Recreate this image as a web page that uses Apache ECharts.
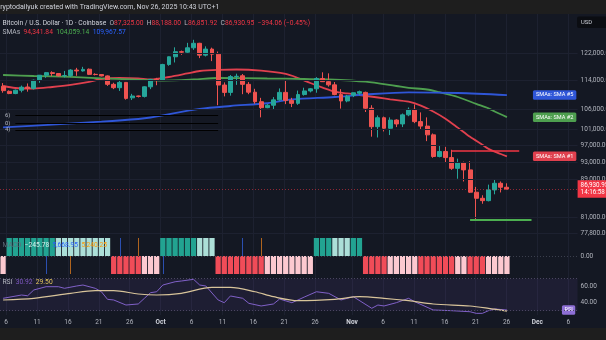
<!DOCTYPE html>
<html>
<head>
<meta charset="utf-8">
<script src="https://cdn.jsdelivr.net/npm/echarts@6/dist/echarts.min.js"></script>
<style>
html,body{margin:0;padding:0;background:#141823;}
#chart{width:606px;height:340px;}
</style>
</head>
<body>
<div id="chart"></div>
<script>
// ---- daily categories: 5 Sep 2025 .. 7 Dec 2025 ----
const dates = [];
for (let d = new Date(Date.UTC(2025, 8, 5)); d <= new Date(Date.UTC(2025, 11, 7)); d.setUTCDate(d.getUTCDate() + 1)) {
  dates.push(d.toISOString().slice(0, 10));
}

// time-axis labels
const tickDates = ['2025-09-06','2025-09-11','2025-09-16','2025-09-21','2025-09-26','2025-10-01','2025-10-06',
  '2025-10-11','2025-10-16','2025-10-21','2025-10-26','2025-11-01','2025-11-06','2025-11-11','2025-11-16',
  '2025-11-21','2025-11-26','2025-12-01','2025-12-06'];
const monthNames = {'09':'Sep','10':'Oct','11':'Nov','12':'Dec'};

// price-scale labels
const priceTicks = [122000, 114000, 106000, 101000, 97000, 93000, 89000, 81000, 77800];

// BTC/USD daily candles: date, open, high, low, close
const ohlc = [
['2025-09-05',112400,113300,110600,111180],
['2025-09-06',111000,111250,110200,110380],
['2025-09-07',110380,111500,110200,111300],
['2025-09-08',111300,112600,110700,112150],
['2025-09-09',112200,113200,110900,111800],
['2025-09-10',111800,114300,111500,114100],
['2025-09-11',114100,115600,113400,115550],
['2025-09-12',115550,116500,114800,116300],
['2025-09-13',116300,116700,115300,116050],
['2025-09-14',116050,116200,115200,115400],
['2025-09-15',115400,116800,114900,115450],
['2025-09-16',115450,117300,115000,117050],
['2025-09-17',117050,117700,115400,116800],
['2025-09-18',116800,118000,116600,117250],
['2025-09-19',117300,117500,115600,115800],
['2025-09-20',115800,116100,115500,115750],
['2025-09-21',115750,115900,115200,115350],
['2025-09-22',115350,115500,112500,112950],
['2025-09-23',112950,113400,111600,112000],
['2025-09-24',112000,113900,111100,113500],
['2025-09-25',113500,113600,108700,109050],
['2025-09-26',109200,110300,108600,109700],
['2025-09-27',109700,109800,109300,109600],
['2025-09-28',109600,112400,109300,112250],
['2025-09-29',112250,114500,111600,114350],
['2025-09-30',114350,114800,112700,114100],
['2025-10-01',114100,118900,113900,118700],
['2025-10-02',118700,121100,118300,121000],
['2025-10-03',121000,123900,119300,122550],
['2025-10-04',122550,122900,121600,122400],
['2025-10-05',122400,125300,122200,123750],
['2025-10-06',123750,126250,123100,125150],
['2025-10-07',125150,125300,120600,121500],
['2025-10-08',121500,124200,121100,123350],
['2025-10-09',123350,123800,119700,121800],
['2025-10-10',121800,122600,107200,112750],
['2025-10-11',112750,113500,109600,110700],
['2025-10-12',110700,115600,109800,115150],
['2025-10-13',115150,116000,112800,115250],
['2025-10-14',115400,115900,110200,112950],
['2025-10-15',112950,113600,110200,110750],
['2025-10-16',110750,111700,107600,108150],
['2025-10-17',108150,109200,104000,106550],
['2025-10-18',106550,107500,106400,107200],
['2025-10-19',107200,109400,106100,108650],
['2025-10-20',108650,111800,108400,110700],
['2025-10-21',110700,114100,107500,108500],
['2025-10-22',108500,109200,106700,107700],
['2025-10-23',107700,111200,107300,110100],
['2025-10-24',110100,112000,109800,111100],
['2025-10-25',111100,111900,110700,111700],
['2025-10-26',111700,115000,110600,114600],
['2025-10-27',114600,116400,113800,113700],
['2025-10-28',113700,116100,112300,112800],
['2025-10-29',112800,113600,109900,110100],
['2025-10-30',110100,111600,106300,108350],
['2025-10-31',108350,110000,108000,109650],
['2025-11-01',109900,110600,109400,110600],
['2025-11-02',110450,111200,109900,110900],
['2025-11-03',110700,110900,105400,106400],
['2025-11-04',106400,107200,99100,101600],
['2025-11-05',101600,104500,98900,103900],
['2025-11-06',103900,104200,100400,101200],
['2025-11-07',101200,104000,99500,103300],
['2025-11-08',103300,103500,101500,102300],
['2025-11-09',102300,105000,101500,104650],
['2025-11-10',104650,106600,104300,106100],
['2025-11-11',106100,107400,102500,102900],
['2025-11-12',102900,105300,100800,101750],
['2025-11-13',101750,104000,98000,99550],
['2025-11-14',99550,99900,94000,94300],
['2025-11-15',94300,96800,94100,95500],
['2025-11-16',95500,96600,93000,94050],
['2025-11-17',94050,95900,91200,91550],
['2025-11-18',91550,93800,89200,92850],
['2025-11-19',92850,93100,88600,91200],
['2025-11-20',91200,93200,86100,86250],
['2025-11-21',86250,87400,80600,84950],
['2025-11-22',84950,85600,83800,84450],
['2025-11-23',84450,87900,84300,86750],
['2025-11-24',86750,89000,85800,88200],
['2025-11-25',88200,88600,86200,87325],
['2025-11-26',87325,88188,86851.92,86930.95]
];

// simple moving averages (50 / 100 / 200)
const sma50 = [['2025-09-05',112480],['2025-09-07',111920],['2025-09-10',111780],['2025-09-13',112200],
  ['2025-09-16',112770],['2025-09-19',113620],['2025-09-21',114470],['2025-09-24',114750],['2025-09-27',114610],
  ['2025-09-29',114330],['2025-10-02',115040],['2025-10-05',116060],['2025-10-07',116780],['2025-10-10',117130],
  ['2025-10-13',117220],['2025-10-17',116870],['2025-10-21',115910],['2025-10-23',114750],['2025-10-25',113330],
  ['2025-10-27',112050],['2025-10-29',110900],['2025-10-31',110400],['2025-11-02',109980],['2025-11-05',109290],
  ['2025-11-07',108800],['2025-11-10',108150],['2025-11-12',107100],['2025-11-14',105540],['2025-11-16',103650],
  ['2025-11-18',101370],['2025-11-20',99050],['2025-11-22',97110],['2025-11-23',96110],['2025-11-25',94890],
  ['2025-11-26',94341.84]];
const sma100 = [['2025-09-05',115620],['2025-09-10',115330],['2025-09-16',115050],['2025-09-21',114670],
  ['2025-09-26',114330],['2025-10-01',114030],['2025-10-06',114330],['2025-10-10',114750],['2025-10-18',114610],
  ['2025-10-24',114470],['2025-10-28',114330],['2025-11-03',113700],['2025-11-08',112480],['2025-11-10',111970],
  ['2025-11-13',111500],['2025-11-15',110750],['2025-11-18',109430],['2025-11-21',107570],['2025-11-23',106380],
  ['2025-11-24',105540],['2025-11-26',104059.14]];
const sma200 = [['2025-09-05',101440],['2025-09-13',102130],['2025-09-21',102880],['2025-09-27',103570],
  ['2025-09-29',103960],['2025-10-07',106200],['2025-10-12',106990],['2025-10-18',107730],['2025-10-22',108760],
  ['2025-10-29',109430],['2025-11-03',110120],['2025-11-10',110720],['2025-11-18',110530],['2025-11-26',109967.57]];

// drawn levels
const resistance = {from:'2025-11-17', to:'2025-11-28', price:95610};
const support = {from:'2025-11-20', to:'2025-11-30', price:80600};
const blackLevels = [{price:104430, tag:'6)'}, {price:102530, tag:'0)'}, {price:100770, tag:'4)'}];
const blackFrom = '2025-09-07', blackTo = '2025-10-10';
const lastPrice = 86930.95, lastTime = '14:16:58';

// MACD histogram state per day: G rising above zero, g falling above zero, R falling below, r rising below
const macdState = 'rGGGGGGGGgggggggggRRRRRrrrGGGGGGgggRRRRRRRRrrrrrrrrGGGgggGGRRRRrrrrrRRRRRRrrRRRrrrr'.split('');
const macdCross = [['2025-09-12','#2b4fb0',-1],['2025-09-16','#b0641e',-1],['2025-09-24','#2b4fb0',1],
  ['2025-09-27','#b0641e',1],['2025-10-01','#2b4fb0',-1],['2025-10-14','#2b4fb0',1],['2025-10-17','#b0641e',1]];

// RSI(14) and its moving average
const rsi = [['2025-09-05',45.5],['2025-09-08',49.6],['2025-09-09',48.7],['2025-09-10',55.9],['2025-09-12',60],
  ['2025-09-14',60],['2025-09-15',58],['2025-09-17',60.9],['2025-09-18',62.1],['2025-09-20',58],['2025-09-21',53.7],
  ['2025-09-22',44.2],['2025-09-23',43.4],['2025-09-25',37.1],['2025-09-27',38.4],['2025-09-28',45.5],
  ['2025-09-29',52.5],['2025-09-30',53.7],['2025-10-01',62.1],['2025-10-03',66.2],['2025-10-04',67.1],
  ['2025-10-06',69.2],['2025-10-07',62.1],['2025-10-08',60.9],['2025-10-10',43.4],['2025-10-11',40],
  ['2025-10-12',48.4],['2025-10-14',45.5],['2025-10-15',39.2],['2025-10-17',35.9],['2025-10-19',38.4],
  ['2025-10-20',44.6],['2025-10-22',40],['2025-10-23',43.4],['2025-10-24',47],['2025-10-26',53.7],
  ['2025-10-28',51.7],['2025-10-30',43.4],['2025-11-01',47.5],['2025-11-04',33],['2025-11-05',37.1],
  ['2025-11-06',35.9],['2025-11-08',40],['2025-11-10',45.5],['2025-11-11',41.2],['2025-11-14',30.9],
  ['2025-11-17',30],['2025-11-20',28.7],['2025-11-21',26.7],['2025-11-22',26.7],['2025-11-23',30],
  ['2025-11-24',32.2],['2025-11-25',31.5],['2025-11-26',30.92]];
const rsiMa = [['2025-09-05',43.4],['2025-09-10',45.5],['2025-09-16',51.7],['2025-09-20',55],['2025-09-23',55],
  ['2025-09-27',50.9],['2025-09-30',49.6],['2025-10-04',51.7],['2025-10-09',59.2],['2025-10-12',59.2],
  ['2025-10-16',53.7],['2025-10-19',47.5],['2025-10-23',42.5],['2025-10-29',44.2],['2025-11-02',47.5],
  ['2025-11-06',45.5],['2025-11-10',42.5],['2025-11-14',38.4],['2025-11-20',35.9],['2025-11-23',33],
  ['2025-11-26',29.5]];
const rsiTicks = [60, 40];

// ---- styling ----
const FONT = 'Roboto';
const UP = '#26a69a', DOWN = '#ef5350';
const AXIS_TXT = '#b2b5be';
const LEG = 6.7;
const macdColor = {G:'#22a391', g:'#acdfd8', R:'#f04c58', r:'#fcc9d0'};
const tickSet = new Set(tickDates);

const fmt2 = v => v.toLocaleString('en-US', {minimumFractionDigits: 2, maximumFractionDigits: 2});

const candleData = ohlc.map(r => [r[1], r[4], r[3], r[2]]);

const mainMarks = [];
priceTicks.forEach(v => mainMarks.push({
  yAxis: v,
  lineStyle: {color: '#1d2130', width: 1, type: 'solid'},
  label: {show: true, position: 'end', distance: 3, formatter: fmt2(v), color: AXIS_TXT, fontSize: 6.5, fontFamily: FONT}
}));
blackLevels.forEach(l => mainMarks.push([
  {coord: [blackFrom, l.price], lineStyle: {color: '#000000', width: 1, type: 'solid'},
   label: {show: true, position: 'start', distance: 5, formatter: l.tag, color: AXIS_TXT, fontSize: 6, fontFamily: FONT}},
  {coord: [blackTo, l.price]}
]));
mainMarks.push([
  {coord: [resistance.from, resistance.price], lineStyle: {color: '#f23645', width: 1.5, type: 'solid'}, label: {show: false}},
  {coord: [resistance.to, resistance.price]}
]);
mainMarks.push([
  {coord: [support.from, support.price], lineStyle: {color: '#4caf50', width: 2, type: 'solid'}, label: {show: false}},
  {coord: [support.to, support.price]}
]);
mainMarks.push({
  yAxis: lastPrice,
  lineStyle: {color: 'rgba(242,54,69,0.55)', width: 1, type: [1, 2]},
  label: {show: true, position: 'end', distance: 0, formatter: fmt2(lastPrice) + '\n' + lastTime,
    color: '#ffffff', backgroundColor: '#f23645', padding: [1.5, 3, 1, 3], fontSize: 6.3, lineHeight: 7.5, fontFamily: FONT, align: 'left'}
});

const smaSeries = (name, data, color, tag) => ({
  name, type: 'line', xAxisIndex: 0, yAxisIndex: 0, data, showSymbol: false, smooth: 0.3,
  lineStyle: {color, width: 1.8}, z: 3,
  endLabel: {show: true, formatter: tag, distance: 26, color: '#ffffff', backgroundColor: color,
    fontSize: 5.6, fontFamily: FONT, padding: [2, 3, 1.5, 3], borderRadius: 1.5}
});

const hiddenX = i => ({type: 'category', gridIndex: i, data: dates, boundaryGap: true,
  axisLine: {show: false}, axisTick: {show: false}, axisLabel: {show: false}, splitLine: {show: false}});

const rt = (fill) => ({fill, fontSize: LEG, fontFamily: FONT});

const option = {
  backgroundColor: '#141823',
  animation: false,
  textStyle: {fontFamily: FONT},
  grid: [
    {left: -3.27, right: 28.4, top: 14, height: 261},
    {left: -3.27, right: 28.4, top: 238, height: 36},
    {left: -3.27, right: 28.4, top: 277.1, height: 36.8},
    {left: -0.18, right: 31.5, top: 14, height: 301}
  ],
  xAxis: [hiddenX(0), hiddenX(1), hiddenX(2), {
    type: 'category', gridIndex: 3, data: dates, boundaryGap: false,
    axisLine: {show: false}, axisTick: {show: false},
    axisLabel: {show: true, interval: (i, v) => tickSet.has(v), margin: 4, color: AXIS_TXT, fontSize: 6.5, fontFamily: FONT,
      formatter: v => { const p = v.split('-'); return p[2] === '01' ? '{m|' + monthNames[p[1]] + '}' : String(+p[2]); },
      rich: {m: {fontWeight: 'bold', color: '#d1d4dc', fontSize: 6.5, fontFamily: FONT}}},
    splitLine: {show: true, interval: (i, v) => tickSet.has(v), lineStyle: {color: '#1d2130', width: 1}}
  }],
  yAxis: [
    {type: 'log', gridIndex: 0, min: 70125, max: 134664, show: false, splitLine: {show: false}},
    {type: 'value', gridIndex: 1, min: -1, max: 1, show: false, splitLine: {show: false}},
    {type: 'value', gridIndex: 2, min: 26, max: 72, show: false, splitLine: {show: false}},
    {type: 'value', gridIndex: 3, show: false, splitLine: {show: false}}
  ],
  series: [
    {
      name: 'BTCUSD', type: 'candlestick', xAxisIndex: 0, yAxisIndex: 0, data: candleData, barWidth: 4.4, z: 4,
      itemStyle: {color: UP, color0: DOWN, borderColor: UP, borderColor0: DOWN, borderWidth: 1},
      markLine: {silent: true, symbol: 'none', animation: false, data: mainMarks}
    },
    smaSeries('SMA 50', sma50, '#e0404e', 'SMAs: SMA #1'),
    smaSeries('SMA 100', sma100, '#4e9f4f', 'SMAs: SMA #2'),
    smaSeries('SMA 200', sma200, '#2f56d8', 'SMAs: SMA #5'),
    {
      name: 'MACD hist', type: 'bar', xAxisIndex: 1, yAxisIndex: 1, barCategoryGap: '14%',
      data: macdState.map(s => ({value: (s === 'G' || s === 'g') ? 1 : -1, itemStyle: {color: macdColor[s]}})),
      markLine: {silent: true, symbol: 'none', animation: false, data: [
        {yAxis: 0, lineStyle: {color: '#3b3f4d', type: [1, 2], width: 1},
         label: {show: true, position: 'end', distance: 3, formatter: '0.00', color: AXIS_TXT, fontSize: 6.5, fontFamily: FONT}},
        ...macdCross.map(c => [
          {coord: [c[0], 0], lineStyle: {color: c[1], width: 1, type: 'solid'}, label: {show: false}},
          {coord: [c[0], c[2]]}
        ])
      ]}
    },
    {
      name: 'RSI', type: 'line', xAxisIndex: 2, yAxisIndex: 2, data: rsi, showSymbol: false,
      lineStyle: {color: '#8061c8', width: 1}, z: 3,
      endLabel: {show: true, formatter: 'RSI', distance: 55, color: '#ffffff', backgroundColor: '#8e6fd6',
        fontSize: 5.6, fontFamily: FONT, padding: [2, 2.5, 1.5, 2.5], borderRadius: 1.5},
      markArea: {silent: true, itemStyle: {color: 'rgba(126,87,194,0.10)'}, data: [[{yAxis: 30}, {yAxis: 70}]]},
      markLine: {silent: true, symbol: 'none', animation: false, data: [
        {yAxis: 70, lineStyle: {color: '#4b4660', type: [1, 2], width: 1}, label: {show: false}},
        {yAxis: 30, lineStyle: {color: '#4b4660', type: [1, 2], width: 1}, label: {show: false}},
        ...rsiTicks.map(v => ({yAxis: v, lineStyle: {color: 'rgba(0,0,0,0)', width: 0},
          label: {show: true, position: 'end', distance: 3, formatter: fmt2(v), color: AXIS_TXT, fontSize: 6.5, fontFamily: FONT}}))
      ]}
    },
    {
      name: 'RSI MA', type: 'line', xAxisIndex: 2, yAxisIndex: 2, data: rsiMa, showSymbol: false, smooth: 0.3,
      lineStyle: {color: '#d8c49a', width: 1.2}, z: 3
    }
  ],
  graphic: [
    {type: 'rect', shape: {x: 0, y: 0, width: 606, height: 14}, style: {fill: '#1e1e1e'}, z: 50},
    {type: 'text', x: -3.5, y: 7.5, z: 51, style: {text: 'cryptodailyuk created with TradingView.com, Nov 26, 2025 10:43 UTC+1',
      fill: '#d1d4dc', fontSize: 7, fontFamily: FONT, verticalAlign: 'middle'}},
    {type: 'rect', shape: {x: 0, y: 328, width: 606, height: 12}, style: {fill: '#1e1e1e'}, z: 50},
    {type: 'text', x: 2.5, y: 23, z: 51, style: {
      text: '{t|Bitcoin / U.S. Dollar · 1D · Coinbase}  {k|O}{v|87,325.00}  {k|H}{v|88,188.00}  {k|L}{v|86,851.92}  {k|C}{v|86,930.95}  {v|−394.06 (−0.45%)}',
      verticalAlign: 'middle', fontSize: LEG, fontFamily: FONT,
      rich: {t: rt('#d1d4dc'), k: rt('#b2b5be'), v: rt('#f23645')}}},
    {type: 'text', x: 2.5, y: 32, z: 51, style: {
      text: '{k|SMAs}  {r|94,341.84}  {g|104,059.14}  {b|109,967.57}',
      verticalAlign: 'middle', fontSize: LEG, fontFamily: FONT,
      rich: {k: rt('#b2b5be'), r: rt('#f23645'), g: rt('#4caf50'), b: rt('#2962ff')}}},
    {type: 'rect', shape: {x: 577, y: 16.5, width: 30, height: 11.5, r: 2}, style: {fill: '#0b0d12'}, z: 51},
    {type: 'text', x: 581, y: 22.5, z: 52, style: {text: 'USD', fill: '#d1d4dc', fontSize: 5.8, fontFamily: FONT, verticalAlign: 'middle'}},
    {type: 'text', x: 2.5, y: 245.5, z: 51, style: {
      text: '{k|MACD}  {h|−245.78}  {b|5,668.95}  {o|5,240.25}',
      verticalAlign: 'middle', fontSize: LEG, fontFamily: FONT,
      rich: {k: rt('#5d6a78'), h: rt('#d6f0ec'), b: rt('#2962ff'), o: rt('#ff9800')}}},
    {type: 'text', x: 2.5, y: 282.5, z: 51, style: {
      text: '{k|RSI}  {p|30.92}  {y|29.50}',
      verticalAlign: 'middle', fontSize: LEG, fontFamily: FONT,
      rich: {k: rt('#b2b5be'), p: rt('#7e57c2'), y: rt('#e6c85c')}}}
  ]
};

const chart = echarts.init(document.getElementById('chart'), null, {renderer: 'canvas'});
chart.setOption(option);
</script>
</body>
</html>
